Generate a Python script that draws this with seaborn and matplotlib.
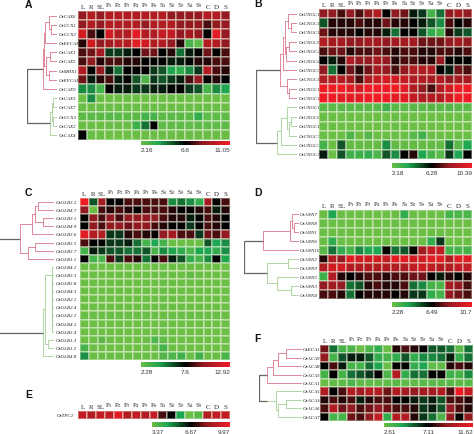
import matplotlib
matplotlib.use("Agg")
import matplotlib.pyplot as plt
from matplotlib.colors import LinearSegmentedColormap
import numpy as np
import pandas as pd
import seaborn as sns

W, H = 474, 435
COLS = ["L", "R", "SL", "P$_1$", "P$_2$", "P$_3$", "P$_4$", "P$_5$", "P$_6$",
        "S$_1$", "S$_2$", "S$_3$", "S$_4$", "S$_5$", "C", "D", "S"]

# Cell levels on a 0 (light green) .. 5 (black) .. 10 (red) scale
A_genes = ["OsCAX6", "OsCCX1", "OsCCX2", "OsEFCAX2", "OsCAX1", "OsCAX5", "OsMHX1", "OsEFCAX3", "OsCAX9",
           "OsCAX3", "OsCAX7", "OsCCX3", "OsCAX2", "OsCAX4"]
A_levels = [
    [7, 8, 7, 8, 8, 8, 8, 8, 8, 8, 7, 7, 7, 7, 8, 8, 7],
    [7, 8, 7, 8, 8, 8, 8, 7, 8, 8, 8, 7, 7, 7, 6, 7, 7],
    [9, 6, 5, 9, 8, 8, 9.5, 8, 8, 8.5, 8.5, 7, 7.5, 7, 5, 9.5, 7],
    [5.5, 9, 7, 7.5, 8, 8, 9.5, 9, 8, 8, 7, 5.5, 1, 0.3, 8, 8, 7],
    [6, 6.5, 7.5, 4, 4, 4.5, 5, 6.5, 6.5, 5, 5.5, 3, 4.5, 5, 6.5, 5, 6],
    [6, 7, 5.5, 6, 6, 5.5, 5.5, 5, 5, 5, 4.5, 4.5, 5, 5.5, 5.5, 6, 6],
    [8, 5, 7, 4.5, 3, 5, 5, 5, 4, 3.5, 2, 1.5, 2.5, 4, 8, 6, 5.5],
    [6.5, 4.5, 5.5, 6, 4.5, 5, 3.5, 0.8, 4, 3.5, 4, 4.5, 6, 7, 5, 5.5, 5],
    [2.5, 2.5, 1, 5, 4.5, 4.5, 4, 4, 4.5, 4.5, 5, 5, 4, 3.5, 1, 2.5, 2],
    [0, 2.5, 0, 0, 0, 0, 0, 0, 0, 0, 0, 0, 0, 0, 0, 0, 0],
    [0, 0, 0, 0, 0, 0, 0, 0, 0, 0, 0, 0, 0, 0, 0, 0, 0],
    [0.4, 0.4, 0.4, 0.5, 0.5, 0.4, 0.4, 1, 1, 0.4, 0.4, 0.4, 0.4, 1.5, 0.3, 0.3, 0.3],
    [0, 0, 0, 0, 0, 0, 1.2, 3, 5, 0.3, 0.3, 0.3, 0.3, 0.3, 0.3, 0.3, 0.3],
    [5, 0, 0, 0, 0, 0, 0, 0, 0, 0, 0, 0, 0, 0, 0, 0, 0],
]
B_genes = ["OsCNGC1", "OsCNGC11", "OsCNGC13", "OsCNGC8", "OsCNGC2", "OsCNGC4", "OsCNGC5", "OsCNGC12", "OsCNGC16",
           "OsCNGC15", "OsCNGC10", "OsCNGC6", "OsCNGC14", "OsCNGC7", "OsCNGC3", "OsCNGC9"]
B_levels = [
    [7, 7, 6, 7, 6, 7, 8, 5, 7, 6.5, 4.5, 4, 1, 3, 7, 7.5, 7],
    [3.5, 5.5, 5.5, 5.5, 6, 5.5, 5.5, 6.5, 5.5, 5.5, 5, 4.5, 3.5, 2.5, 6, 5, 5.5],
    [6.5, 5.5, 5.5, 5.5, 5, 5.5, 5.5, 4.5, 3, 5, 5, 3.5, 1.5, 1, 5.5, 4, 3.5],
    [8, 7.5, 7.5, 7, 7, 7.5, 7.5, 7, 7.5, 7.5, 7.5, 6.5, 6.5, 6.5, 7, 7.5, 7],
    [6, 6.5, 6.5, 5.5, 6, 6, 6.5, 6, 5.5, 6, 6, 5.5, 5.5, 6, 6, 5.5, 6],
    [5, 4.5, 5.5, 8, 7, 7, 7.5, 7, 5.5, 6, 6, 5.5, 5.5, 7, 5, 5, 5],
    [7, 3, 5, 6.5, 5.5, 6.5, 7.5, 7, 6, 7, 8, 8, 8, 5, 4.5, 6.5, 6],
    [8, 8, 8, 7.5, 6, 8, 8.5, 9, 9, 8.5, 8, 8, 7.5, 8, 7, 7.5, 7.5],
    [10, 10, 10, 9.5, 9, 10, 10, 10, 10, 9.5, 8, 7, 6, 8, 9, 10, 10],
    [10, 10, 9.5, 9.5, 9.5, 10, 10, 10, 9.5, 9.5, 8.5, 8, 8, 8, 9, 10, 10],
    [0.5, 0.5, 0.5, 0.5, 0.5, 0.5, 0.5, 1.2, 0.5, 0.5, 0.5, 0.5, 0.6, 0.5, 0.6, 0.5, 0.5],
    [0, 0, 0, 0, 0, 0, 0, 0, 0, 0, 0, 0, 0, 0, 0, 0, 0],
    [0, 0, 0, 0, 0, 0, 0, 0, 0, 0, 0, 0, 0, 0, 0, 0, 0],
    [0, 0, 0, 0.8, 0, 0.6, 0, 0, 0, 0, 0.5, 1.2, 0, 0, 0, 0, 0],
    [1, 0, 3.5, 0.2, 0.2, 0.2, 0.2, 2.5, 0.2, 0.2, 0.2, 0.2, 0.2, 0.2, 3, 0.5, 2],
    [4.5, 0, 3.5, 1.2, 1.2, 1.5, 0.8, 3.5, 2.5, 5, 5.5, 2, 1, 0.5, 4, 2, 5],
]
C_genes = ["OsGLR3.2", "OsGLR4.7", "OsGLR3.1", "OsGLR4.9", "OsGLR3.6", "OsGLR3.5", "OsGLR3.7", "OsGLR1.1",
           "OsGLR4.1", "OsGLR3.3", "OsGLR3.8", "OsGLR4.3", "OsGLR2.1", "OsGLR2.4", "OsGLR2.2", "OsGLR4.2",
           "OsGLR3.4", "OsGLR1.3", "OsGLR1.2", "OsGLR4.8"]
C_levels = [
    [10, 3.5, 7.5, 5, 5, 6, 6, 6, 6, 6, 2.5, 3, 2.5, 1.5, 7.5, 5, 6],
    [7, 0, 6, 5.5, 6, 5.5, 5, 6, 6, 6, 5.5, 5, 5, 5.5, 6, 4.5, 5.5],
    [5, 7, 6, 7, 6, 7, 7, 7, 7, 6, 5.5, 5.5, 4.5, 5, 6, 5.5, 5],
    [5, 7, 6, 7, 7, 6.5, 7, 7, 6, 5.5, 5, 5, 4, 5, 6, 5.5, 5],
    [9.5, 8, 8, 4, 4, 5.5, 6, 5.5, 5, 7, 7.5, 6, 6, 4, 6.5, 6, 7],
    [6, 5, 5, 4, 4, 4.5, 3, 1, 2, 1, 0, 0, 0, 0, 3.5, 2, 2.5],
    [1, 4.5, 4, 3.5, 3.5, 3, 3, 3.5, 1, 2.5, 2, 1.5, 0.8, 2, 2, 1.5, 2.5],
    [5, 1, 0.8, 6, 4, 6, 5.5, 3, 5, 6, 4.5, 3.5, 1.5, 1, 2.5, 5, 2],
    [0, 0, 0, 0, 0, 0, 0, 0, 0, 0, 0, 0, 0, 0, 0, 0, 0],
    [0, 0, 0, 0, 0, 0, 0, 0, 0, 0, 0, 0, 0.2, 0, 0, 0, 0],
    [0, 0, 0, 0, 0, 0, 0, 0, 0, 0, 0, 0, 0, 0, 0, 0, 0],
    [0, 0, 0, 0, 0, 0, 0, 0, 0, 0, 0, 0, 0, 0, 0, 0, 0],
    [0, 0, 0, 0, 0, 0, 0, 0, 0, 0, 0, 0, 0, 0, 0, 0, 0],
    [0, 0, 0, 0, 0, 0, 0, 0, 0, 0, 0, 0, 0, 0, 0, 0, 0],
    [0, 0, 0, 0, 0, 0, 0, 0, 0, 0, 0, 0, 0, 0, 0, 0, 0],
    [0, 0, 0, 0, 0, 0, 0, 0, 0, 0, 0, 0, 0, 0, 0, 0, 0],
    [0, 0, 0, 0, 0, 0, 0, 0, 0, 0, 0, 0, 0, 0, 0, 0, 0],
    [0, 0, 0.4, 0, 0, 0, 0, 0, 0.8, 0.3, 0, 0, 0, 0, 0, 0, 0],
    [1, 0, 0, 0, 0, 0, 0, 0, 0, 1, 0, 0, 0, 0, 0, 0, 0],
    [2.5, 0, 0, 0, 0, 0, 0, 0, 0, 0.7, 0.8, 1.2, 0, 1.2, 0, 0, 0.9],
]
D_genes = ["OsANN7", "OsANN8", "OsANN1", "OsANN6", "OsANN10", "OsANN2", "OsANN9", "OsANN5", "OsANN3", "OsANN4"]
D_levels = [
    [0, 2, 0, 0, 0, 0, 0, 0, 0, 1.5, 0, 0, 0, 0, 1, 0.8, 0.8],
    [0, 0, 0, 0, 0, 0, 0, 0, 0, 0, 0, 0, 0, 0, 0, 0, 0],
    [0, 0, 0, 0, 0, 0, 0, 0, 0, 0, 0, 0, 0, 0, 0, 0, 0],
    [0, 1.5, 0, 0, 0, 0, 0, 0, 0, 0, 0, 0, 1.5, 4, 0, 0, 0],
    [0.5, 3, 1.5, 1, 2.5, 2, 2, 5, 3, 3.5, 5, 7.5, 8.5, 8.5, 1, 1, 1],
    [5.5, 8, 7, 9.5, 9, 9, 9, 8.5, 9.5, 9.5, 9, 9, 9.5, 9.5, 8, 9.5, 9.5],
    [8, 9, 9, 8, 8, 8, 8, 8, 8, 8, 8.5, 9, 8.5, 8, 8, 8.5, 8.5],
    [1.2, 8, 5.5, 5, 5.5, 6, 6, 5.5, 6, 6, 6.5, 6.5, 5, 4.5, 5.5, 5, 5.5],
    [7, 7.5, 7, 3, 3.5, 5.5, 6, 5.5, 5.5, 6, 3, 2.5, 1, 0.8, 7.5, 7, 6],
    [6, 6, 5.5, 3, 5, 5.5, 5.5, 5.5, 5, 5.5, 4, 4, 1.5, 1, 7, 6.5, 6],
]
E_genes = ["OsTPC1"]
E_levels = [[8.5, 8, 8.5, 8.5, 9.5, 8, 8.5, 8, 8.5, 6, 5, 2, 0, 0.5, 8, 8.5, 8.5]]
F_genes = ["OsECA1", "OsACA9", "OsACA8", "OsACA3", "OsACA1", "OsACA5", "OsACA10", "OsACA6", "OsACA7"]
F_levels = [
    [6.5, 3, 1, 0.8, 0, 0.8, 1.5, 0, 5.5, 6, 5.5, 5, 3.5, 3.5, 3, 0.5, 3],
    [7, 1, 3.5, 4.5, 4.5, 3.5, 1.5, 1, 1.5, 3.5, 1.5, 2.5, 2.5, 3, 4.5, 1.5, 3],
    [5, 6, 4.5, 1, 1, 3, 2, 0, 5, 5, 1.5, 2, 0.3, 0.3, 5.5, 6, 5.5],
    [1, 5, 1, 3, 3.5, 4, 5, 0.8, 8, 1.5, 3, 3, 5, 5, 1.2, 1, 2.5],
    [0, 0.3, 0.3, 0.8, 0.3, 0.3, 0.3, 0.3, 0.5, 0.3, 0.3, 0.5, 0.5, 0.5, 0.5, 0.3, 0.5],
    [8, 5, 6, 8, 7.5, 8, 8, 6.5, 8, 7.5, 7, 7.5, 7.5, 8, 6, 10, 8.5],
    [5.5, 6, 5.5, 6, 4.5, 5.5, 6, 6, 5, 5, 4.5, 4, 4.5, 3.5, 6, 6, 5.5],
    [6, 8, 6.5, 7, 6, 6.5, 7, 6.5, 6, 6, 5.5, 4, 4.5, 3.5, 7, 6, 5.5],
    [5, 1, 1, 6.5, 6, 7, 8.5, 1.5, 8, 8, 5.5, 4, 3, 0.8, 7, 5, 7],
]

# Colour-bar ranges shown in the figure
A_range = (2.16, 6.6, 11.05)
B_range = (2.18, 6.28, 10.39)
C_range = (2.28, 7.6, 12.92)
D_range = (2.28, 6.49, 10.7)
E_range = (3.37, 6.67, 9.97)
F_range = (2.61, 7.11, 11.62)

# Dendrograms: (branch depth 0..1, child, child...), integers are row numbers
A_tree = (0, (.53, (.56, (.6, (.72, 0, (.8, 1, 2)), 3), (.62, (.75, 4, 5), (.72, 6, 7))), 8),
          (.77, (.82, (.85, 9, 10), (.85, 11, 12)), 13))
B_tree = (0, (.59, (.67, (.7, (.77, 0, (.85, 1, 2)), (.72, (.8, 3, 4), 5)), 6), (.75, 7, (.8, 8, 9))),
          (.51, (.62, (.75, 10, (.8, (.85, 11, 12), 13)), 14), 15))
C_tree = (0, (.47, (.66, (.7, (.75, 0, 1), (.83, 2, 3)), 4), (.59, (.7, 5, 6), 7)),
          (.83, (.86, (.97, 8, (.97, 9, (.97, 10, (.97, 11, (.97, 12, (.97, 13, (.97, 14, (.97, 15, 16)))))))),
                 (.9, 17, 18)), 19))
D_tree = (0, (.34, (.84, (.87, 0, (.9, 1, 2)), 3), 4),
          (.42, (.8, 5, 6), (.6, 7, (.85, 8, 9))))
F_tree = (0, (.19, (.33, (.45, (.62, 0, 1), 2), 3), 4),
          (.19, (.4, 5, (.45, (.62, 6, 7), 8))))

panels = [
    # letter, genes, levels, range, tree, heat box, tree x range, label x, colour-bar box, letter xy
    ("A", A_genes, A_levels, A_range, A_tree, (78, 12, 230, 140.5), (27, 57), 59, (141, 142, 230, 145.5), (25, 5)),
    ("B", B_genes, B_levels, B_range, B_tree, (319, 10, 472, 160), (256, 297), 299, (392, 164, 472, 169), (254, 4)),
    ("C", C_genes, C_levels, C_range, C_tree, (80, 199, 230, 361), (-10, 54), 56, (141, 363, 230, 368), (25, 193)),
    ("D", D_genes, D_levels, D_range, D_tree, (319, 211, 472, 300), (244, 299), 300, (392, 303, 472, 308), (254, 193)),
    ("E", E_genes, E_levels, E_range, None, (78, 412, 230, 420), None, 57, (152, 423, 230, 428), (25, 395)),
    ("F", F_genes, F_levels, F_range, F_tree, (320, 346, 473, 422), (259, 302), 303, (384, 424, 473, 428), (254, 339)),
]

sns.set_theme(style="white")
plt.rcParams["mathtext.fontset"] = "stix"
cmap = LinearSegmentedColormap.from_list(
    "expr", [(0, "#6abd45"), (.2, "#1fa650"), (.5, "#000000"), (.7, "#921a20"), (1, "#f01c25")])
fig = plt.figure(figsize=(W / 100, H / 100), dpi=100, facecolor="white")


def box(b):
    x0, y0, x1, y1 = b
    return fig.add_axes([x0 / W, 1 - y1 / H, (x1 - x0) / W, (y1 - y0) / H])


def draw_node(ax, node, colour):
    """Draw one dendrogram node; returns the y of the node."""
    if isinstance(node, int):
        return node + .5, 1.0
    depth = node[0]
    ends = [draw_node(ax, c, colour) for c in node[1:]]
    ys = [e[0] for e in ends]
    for y, x in ends:
        ax.plot([depth, x], [y, y], color=colour, lw=.55, solid_capstyle="butt")
    ax.plot([depth, depth], [min(ys), max(ys)], color=colour, lw=.55)
    return (min(ys) + max(ys)) / 2, depth


for letter, genes, levels, rng, tree, hb, tx, lx, cb, lxy in panels:
    lo, mid, hi = rng
    values = lo + (hi - lo) * np.array(levels, dtype=float) / 10
    frame = pd.DataFrame(values, index=genes, columns=COLS)
    ax = box(hb)
    sns.heatmap(frame, ax=ax, cmap=cmap, vmin=lo, vmax=hi, cbar=False,
                xticklabels=True, yticklabels=True,
                linewidths=.3, linecolor=(.95, .97, .9, .38), square=False)
    ax.xaxis.tick_top()
    ax.set_xlabel("")
    ax.set_ylabel("")
    ax.tick_params(axis="x", length=0, pad=1.2, labelsize=5, labelrotation=0)
    for t in ax.get_xticklabels():
        t.set_family("Liberation Serif")
    pad = (hb[0] - lx) * .72
    ax.tick_params(axis="y", length=0, pad=pad, labelsize=3.6, labelrotation=0)
    for t in ax.get_yticklabels():
        t.set_family("Liberation Serif")
        t.set_style("italic")
        t.set_ha("left")
        t.set_color("#222222")

    if tree is not None:
        tax = box((tx[0], hb[1], tx[1], hb[3]))
        tax.set_xlim(0, 1)
        tax.set_ylim(len(genes), 0)
        tax.axis("off")
        y_top, d_top = draw_node(tax, tree[1], "#d8697f")
        y_bot, d_bot = draw_node(tax, tree[2], "#98cc8a")
        tax.plot([0, d_top], [y_top, y_top], color="#666666", lw=.9, solid_capstyle="butt")
        tax.plot([0, d_bot], [y_bot, y_bot], color="#666666", lw=.9, solid_capstyle="butt")
        tax.plot([0, 0], [y_top, y_bot], color="#666666", lw=.9)

    cax = box(cb)
    bar = fig.colorbar(ax.collections[0], cax=cax, orientation="horizontal", ticks=[lo, mid, hi])
    bar.outline.set_visible(False)
    bar.ax.set_xticklabels([str(lo), str(mid), str(hi)], family="Liberation Sans", fontsize=4.6, color="#333333")
    bar.ax.tick_params(axis="x", length=0, pad=1.5)
    tl = bar.ax.get_xticklabels()
    tl[0].set_ha("left")
    tl[2].set_ha("right")

    fig.text(lxy[0] / W, 1 - lxy[1] / H, letter, family="Liberation Sans", weight="bold",
             fontsize=7.5, color="#111111", ha="left", va="center")

fig.savefig("out.png", dpi=100)
